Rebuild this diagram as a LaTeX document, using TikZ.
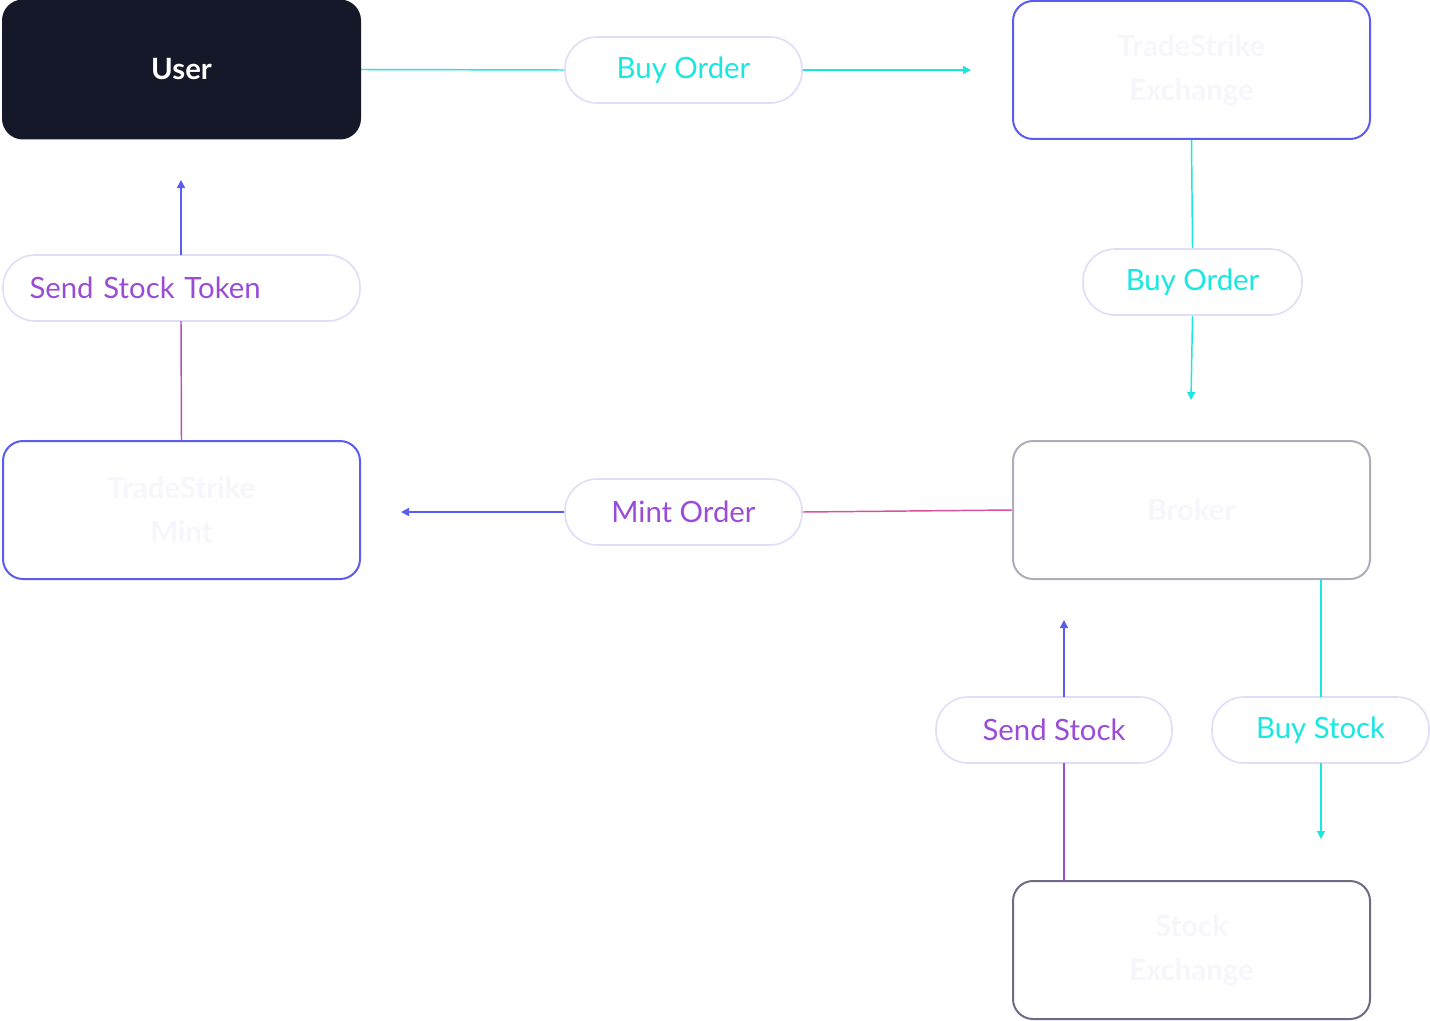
\documentclass[tikz,border=0pt]{standalone}
\usepackage{fontspec}
\setmainfont{Lato}
\usetikzlibrary{arrows.meta}
\definecolor{navy}{HTML}{151829}
\definecolor{indigo}{HTML}{5B5CF0}
\definecolor{cyanl}{HTML}{19E8E0}
\definecolor{pinkl}{HTML}{D9509F}
\definecolor{purpl}{HTML}{9A4CD6}
\definecolor{pillb}{HTML}{E0DCFA}
\definecolor{faint}{HTML}{F6F6FC}
\definecolor{grayb}{HTML}{B2ACBA}
\definecolor{darkg}{HTML}{716A84}
\begin{document}
\begin{tikzpicture}[x=0.75pt,y=-0.75pt,
  box/.style={draw=indigo,line width=1.5pt,rounded corners=15pt,minimum width=267.75pt,minimum height=103.5pt,align=center,font=\fontsize{22}{33}\selectfont\bfseries,text=faint,fill=white},
  pill/.style={draw=pillb,line width=1.2pt,rounded corners=24pt,minimum height=49.5pt,fill=white,font=\fontsize{22}{26}\selectfont},
  con/.style={line width=1.1pt},
  arr/.style={con,-{Triangle[length=6pt,width=6pt]}}]
\useasboundingbox (0,0) rectangle (1430,1020);
\node[box,fill=navy,draw=navy,text=white] (user) at (181.5,69.5) {User};
\node[box] (exch) at (1191.5,70) {TradeStrike\\Exchange};
\node[box] (mint) at (181.5,510) {TradeStrike\\Mint};
\node[box,draw=grayb] (broker) at (1191.5,510) {Broker};
\node[box,draw=darkg] (stock) at (1191.5,950) {Stock\\Exchange};

\node[pill,minimum width=177.75pt,text=cyanl] (p1) at (683.5,70) {Buy Order};
\node[pill,minimum width=164.25pt,text=cyanl] (p2) at (1192.5,282) {Buy Order};
\node[pill,minimum width=267.75pt,text=purpl,text width=240pt,align=left] (p3) at (181.5,288) {\hspace*{6pt}Send Stock Token};
\node[pill,minimum width=177.75pt,text=purpl] (p4) at (683.5,512) {Mint Order};
\node[pill,minimum width=177pt,text=purpl] (p5) at (1054,730) {Send Stock};
\node[pill,minimum width=162.75pt,text=cyanl] (p6) at (1320.5,730) {Buy Stock};

\coordinate (e1) at (971,70);
\coordinate (e2) at (1191,400);
\coordinate (e3) at (401,512);
\coordinate (e4) at (181,180);
\coordinate (e5) at (1064,620);
\coordinate (e6) at (1321,839);

\draw[con,cyanl] (user.east) -- (p1.west);
\draw[arr,cyanl] (p1.east) -- (e1);
\draw[con,cyanl] (exch.south) -- (p2.north);
\draw[arr,cyanl] (p2.south) -- (e2);
\draw[con,pinkl] (broker.west) -- (p4.east);
\draw[arr,indigo] (p4.west) -- (e3);
\draw[con,pinkl!50!purpl] (mint.north) -- (181,321);
\draw[arr,indigo] (181,255) -- (e4);
\draw[con,purpl] (1064,881) -- (1064,763);
\draw[arr,indigo] (1064,697) -- (e5);
\draw[con,cyanl] (1321,579) -- (1321,697);
\draw[arr,cyanl] (1321,763) -- (e6);
\end{tikzpicture}
\end{document}
